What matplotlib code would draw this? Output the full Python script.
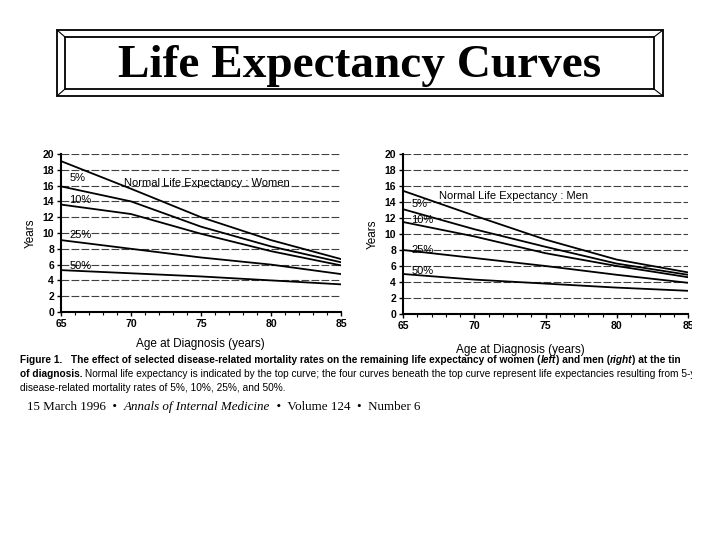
import matplotlib
matplotlib.use("Agg")
import matplotlib.pyplot as plt
from matplotlib.patches import Rectangle
from matplotlib.lines import Line2D

# values
ages = [65, 70, 75, 80, 85]
women_normal = [19.1, 15.6, 12.0, 9.1, 6.7]
women_5 = [15.9, 14.0, 10.8, 8.3, 6.3]
women_10 = [13.6, 12.4, 9.9, 7.7, 5.9]
women_25 = [9.1, 8.0, 6.9, 6.0, 4.8]
women_50 = [5.3, 4.9, 4.5, 4.0, 3.5]

men_normal = [15.4, 12.3, 9.3, 6.8, 5.2]
men_5 = [13.1, 10.6, 8.4, 6.3, 4.9]
men_10 = [11.5, 9.7, 7.6, 6.0, 4.6]
men_25 = [8.0, 7.0, 6.0, 4.9, 3.9]
men_50 = [5.0, 4.3, 3.8, 3.3, 2.9]

rate_labels = ["5%", "10%", "25%", "50%"]
women_label_y = [17.0, 14.2, 9.8, 5.8]
men_label_y = [13.7, 11.75, 8.0, 5.4]
x_ticks = [65, 70, 75, 80, 85]
y_ticks = [0, 2, 4, 6, 8, 10, 12, 14, 16, 18, 20]

W, H = 720, 540
sans = ["Liberation Sans", "DejaVu Sans"]
narrow = ["Liberation Sans Narrow", "Liberation Sans", "DejaVu Sans"]
serif = ["Liberation Serif", "DejaVu Serif"]


def fx(x):
    return x / W


def fy(y):
    return 1 - y / H


fig = plt.figure(figsize=(7.2, 5.4), dpi=100)
fig.patch.set_facecolor("white")

# title frame
fig.patches.append(Rectangle((fx(57), fy(96)), fx(663) - fx(57), fy(30) - fy(96),
                             transform=fig.transFigure, fill=False, lw=1.3, ec="black"))
fig.patches.append(Rectangle((fx(65), fy(89)), fx(654) - fx(65), fy(37) - fy(89),
                             transform=fig.transFigure, fill=False, lw=1.3, ec="black"))
for (x0, y0), (x1, y1) in [((57, 30), (65, 37)), ((663, 30), (654, 37)),
                           ((57, 96), (65, 89)), ((663, 96), (654, 89))]:
    fig.lines.append(Line2D([fx(x0), fx(x1)], [fy(y0), fy(y1)],
                            transform=fig.transFigure, color="black", lw=0.8))
fig.text(fx(360), fy(77), "Life Expectancy Curves", family=serif, weight="bold",
         fontsize=34, ha="center", va="baseline")


def panel(rect, curves, label_y, note, note_xy, ylabel_x, xlabel_y, xlabel_x):
    l, t, r, b = rect
    ax = fig.add_axes([fx(l), fy(b), fx(r) - fx(l), fy(t) - fy(b)])
    for v in y_ticks[1:]:
        ax.axhline(v, color="0.25", lw=0.8, ls=(0, (7, 2)), zorder=1)
    for vals in curves:
        ax.plot(ages, vals, color="black", lw=1.3, zorder=3)
    for lab, y in zip(rate_labels, label_y):
        ax.text(65.6, y, lab, family=sans, fontsize=8, va="center", zorder=4)
    ax.text(note_xy[0], note_xy[1], note, family=sans, fontsize=8, va="center", zorder=4)
    ax.set_xlim(65, 85)
    ax.set_ylim(0, 20)
    ax.set_xticks(x_ticks)
    ax.set_xticks(range(65, 86), minor=True)
    ax.set_yticks(y_ticks)
    ax.tick_params(labelsize=7.5, length=3, width=1, pad=2)
    ax.tick_params(which="minor", length=2, width=0.8)
    for lab in ax.get_xticklabels() + ax.get_yticklabels():
        lab.set_family(sans)
        lab.set_weight("bold")
    for s in ["top", "right"]:
        ax.spines[s].set_visible(False)
    for s in ["left", "bottom"]:
        ax.spines[s].set_linewidth(1.5)
    fig.text(fx(ylabel_x), fy((t + b) / 2), "Years", family=sans, fontsize=8.5,
             rotation=90, ha="center", va="center")
    fig.text(fx(xlabel_x), fy(xlabel_y), "Age at Diagnosis (years)", family=sans,
             fontsize=8.5, ha="center", va="center")
    return ax


panel((61, 154, 341, 312),
      [women_normal, women_5, women_10, women_25, women_50], women_label_y,
      "Normal Life Expectancy : Women", (69.5, 16.3), 31, 344, 200)
panel((403, 154, 688, 314),
      [men_normal, men_5, men_10, men_25, men_50], men_label_y,
      "Normal Life Expectancy : Men", (67.5, 14.7), 373, 350, 520)

# scan edge cuts the right side
fig.patches.append(Rectangle((fx(692), fy(420)), 1 - fx(692), fy(140) - fy(420),
                             transform=fig.transFigure, fc="white", ec="none", zorder=10))

bg = fig.add_axes([0, 0, 1, 1])
bg.set_axis_off()
bg.set_zorder(-1)


def chain(pieces, x, y):
    s, kw = pieces[0]
    t = bg.text(fx(x), fy(y), s, ha="left", va="center", transform=fig.transFigure, **kw)
    for s, kw in pieces[1:]:
        t = bg.annotate(s, xy=(1, 0), xycoords=t, ha="left", va="bottom", **kw)
    return t


cap = 7.3
b = dict(family=narrow, fontsize=cap, weight="bold")
bi = dict(family=narrow, fontsize=cap, weight="bold", style="italic")
n = dict(family=narrow, fontsize=cap)
chain([("Figure 1.   The effect of selected disease-related mortality rates on the remaining life expectancy of women (", b),
       ("left", bi), (") and men (", b), ("right", bi), (") at the tin", b)], 20, 360)
chain([("of diagnosis.", b),
       (" Normal life expectancy is indicated by the top curve; the four curves beneath the top curve represent life expectancies resulting from 5-ye", n)],
      20, 374)
chain([("disease-related mortality rates of 5%, 10%, 25%, and 50%.", n)], 20, 388)

ft = dict(family=serif, fontsize=9.4)
chain([("15 March 1996  \u2022  ", ft), ("Annals of Internal Medicine", dict(family=serif, fontsize=9.4, style="italic")),
       ("  \u2022  Volume 124  \u2022  Number 6", ft)], 27, 407)

fig.savefig("out.png", dpi=100, facecolor="white")
